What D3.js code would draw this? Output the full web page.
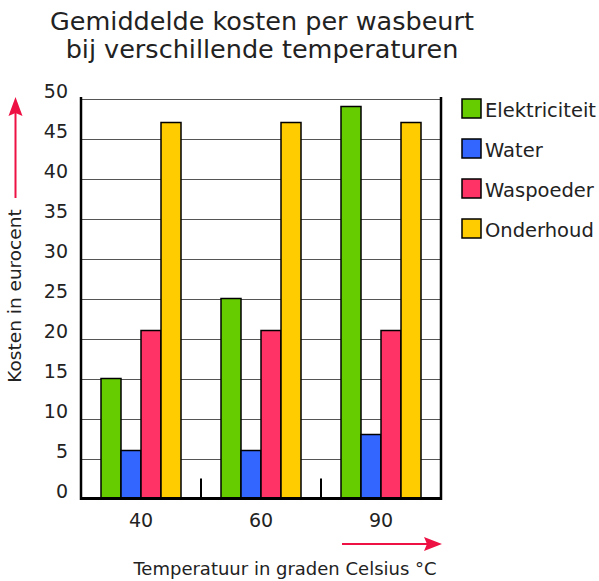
<!DOCTYPE html>
<html><head><meta charset="utf-8">
<script src="https://cdn.jsdelivr.net/npm/d3@7"></script>
<style>body{margin:0;background:#fff}svg{display:block;font-family:"DejaVu Sans",Verdana,sans-serif}</style>
</head><body><svg id="c" width="599" height="581"></svg>
<script>
const categories = ["40", "60", "90"];
const seriesNames = ["Elektriciteit", "Water", "Waspoeder", "Onderhoud"];
const elektriciteit = [15, 25, 49];
const water = [6, 6, 8];
const waspoeder = [21, 21, 21];
const onderhoud = [47, 47, 47];
const yTicks = [0, 5, 10, 15, 20, 25, 30, 35, 40, 45, 50];
const colors = ["#66cc00", "#3366ff", "#ff3366", "#ffcc00"];

const series = [elektriciteit, water, waspoeder, onderhoud];
const svg = d3.select("#c");
const pL = 81, pR = 441, pT = 98.5, pB = 498.5;
const x = d3.scaleBand().domain(categories).range([pL, pR]);
const xs = d3.scaleBand().domain(seriesNames).range([0, 80]);
const y = d3.scaleLinear().domain([0, 50]).range([pB, pT]);
const txt = "#222";

// title
svg.append("text").attr("x", 262).attr("y", 30).attr("text-anchor", "middle")
  .attr("font-size", 25.5).attr("fill", txt).text("Gemiddelde kosten per wasbeurt");
svg.append("text").attr("x", 262).attr("y", 58).attr("text-anchor", "middle")
  .attr("font-size", 25.5).attr("fill", txt).text("bij verschillende temperaturen");

// gridlines
svg.append("g").selectAll("line").data(yTicks.filter(d => d > 0)).join("line")
  .attr("x1", pL).attr("x2", pR).attr("y1", d => Math.round(y(d)) + 0.5).attr("y2", d => Math.round(y(d)) + 0.5)
  .attr("stroke", "#555").attr("stroke-width", 1);

// y labels
svg.append("g").selectAll("text").data(yTicks).join("text")
  .attr("x", 68).attr("y", d => y(d) - 0.5).attr("text-anchor", "end")
  .attr("font-size", 19).attr("fill", txt).text(d => d);

// bars
const groups = svg.append("g").selectAll("g").data(categories).join("g")
  .attr("transform", c => `translate(${x(c) + (x.bandwidth() - 80) / 2},0)`);
groups.selectAll("rect").data((c, i) => seriesNames.map((s, j) => ({s, j, v: series[j][i]}))).join("rect")
  .attr("x", d => xs(d.s)).attr("width", xs.bandwidth())
  .attr("y", d => y(d.v)).attr("height", d => y(0) - y(d.v))
  .attr("fill", d => colors[d.j]).attr("stroke", "#000").attr("stroke-width", 1.5);

// axes lines
svg.append("line").attr("x1", pL).attr("x2", pL).attr("y1", pT - 1.5).attr("y2", pB + 1.5).attr("stroke", "#000").attr("stroke-width", 2.5);
svg.append("line").attr("x1", pR).attr("x2", pR).attr("y1", pT - 1.5).attr("y2", pB + 1.5).attr("stroke", "#000").attr("stroke-width", 2.5);
svg.append("line").attr("x1", pL - 1).attr("x2", pR + 1).attr("y1", pB).attr("y2", pB).attr("stroke", "#000").attr("stroke-width", 3);

// group separators
svg.append("g").selectAll("line").data(categories.slice(1)).join("line")
  .attr("x1", c => x(c)).attr("x2", c => x(c)).attr("y1", pB).attr("y2", pB - 20)
  .attr("stroke", "#000").attr("stroke-width", 2);

// x labels
svg.append("g").selectAll("text").data(categories).join("text")
  .attr("x", c => x(c) + x.bandwidth() / 2).attr("y", 527).attr("text-anchor", "middle")
  .attr("font-size", 19).attr("fill", txt).text(c => c);

// axis titles
svg.append("text").attr("x", 285).attr("y", 575).attr("text-anchor", "middle")
  .attr("font-size", 18).attr("fill", txt).text("Temperatuur in graden Celsius °C");
svg.append("text").attr("transform", "translate(21,296) rotate(-90)").attr("text-anchor", "middle")
  .attr("font-size", 18.5).attr("fill", txt).text("Kosten in eurocent");

// arrows
const red = "#ee1144";
svg.append("line").attr("x1", 342).attr("x2", 428).attr("y1", 544).attr("y2", 544).attr("stroke", red).attr("stroke-width", 2);
svg.append("path").attr("d", "M442,544 L424,537 L427,544 L424,551 Z").attr("fill", red);
svg.append("line").attr("x1", 15.5).attr("x2", 15.5).attr("y1", 198).attr("y2", 112).attr("stroke", red).attr("stroke-width", 2);
svg.append("path").attr("d", "M15.5,97 L8.5,116 L15.5,113 L22.5,116 Z").attr("fill", red);

// legend
const leg = svg.append("g").selectAll("g").data(seriesNames).join("g")
  .attr("transform", (d, i) => `translate(462,${99 + i * 40})`);
leg.append("rect").attr("width", 19).attr("height", 19).attr("fill", (d, i) => colors[i]).attr("stroke", "#000").attr("stroke-width", 1.5);
leg.append("text").attr("x", 23).attr("y", 17.5).attr("font-size", 19.5).attr("fill", txt).text(d => d);
</script></body></html>
